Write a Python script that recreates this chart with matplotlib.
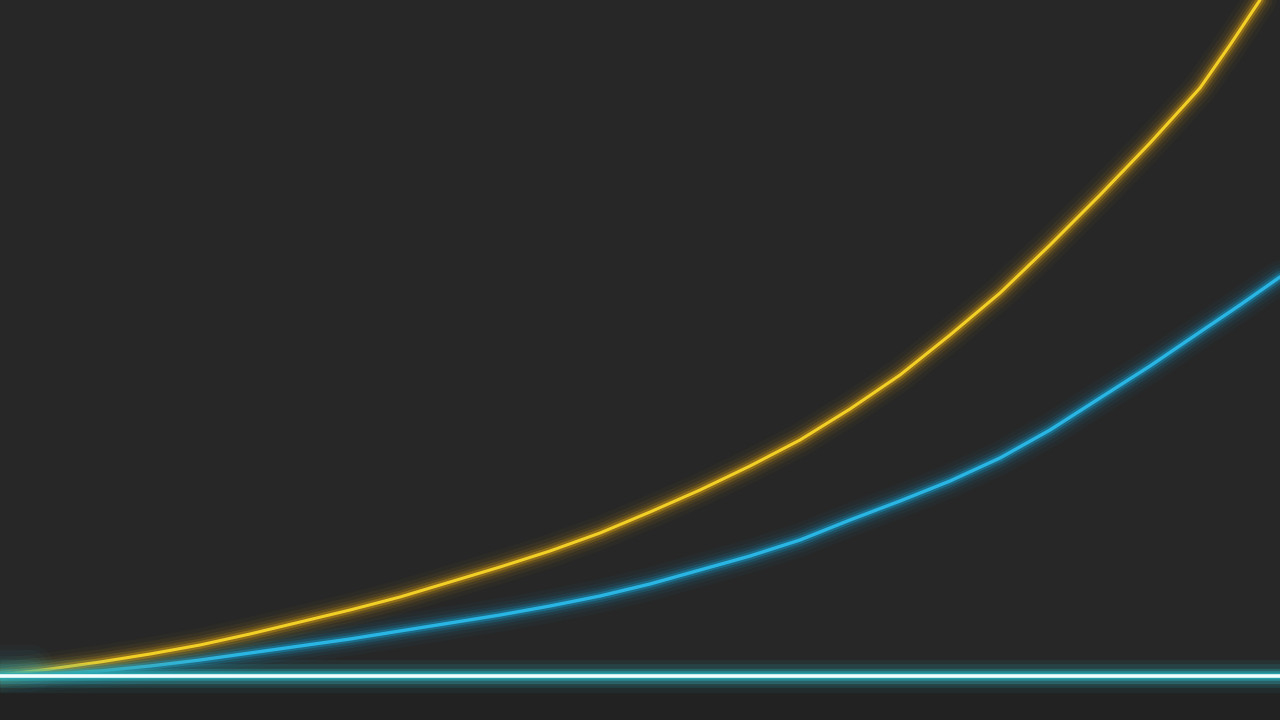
import matplotlib
matplotlib.use('Agg')
import matplotlib.pyplot as plt

# punkty (x, y w pikselach, y liczone od gory)
x_zolta = [0, 50, 100, 150, 200, 250, 300, 350, 400, 450, 500, 550, 600, 650,
           700, 750, 800, 850, 900, 950, 1000, 1050, 1100, 1150, 1200, 1230, 1260]
y_zolta = [675, 669, 662, 654, 645, 634, 622, 610, 597, 582, 567, 551, 533, 512,
           490, 466, 440, 409, 375, 335, 293, 245, 195, 143, 88, 45, 0]

x_niebieska = [0, 50, 100, 150, 200, 250, 300, 350, 400, 450, 500, 550, 600, 650,
               700, 750, 800, 850, 900, 950, 1000, 1050, 1100, 1150, 1200, 1240, 1280]
y_niebieska = [676, 674, 671, 666, 660, 653, 646, 639, 631, 623, 615, 606, 596, 584,
               570, 556, 540, 520, 501, 481, 458, 430, 398, 366, 332, 305, 277]

x_pozioma = [0, 1280]
y_pozioma = [676, 676]


def swiecaca_linia(ax, x, y, kolor_rdzenia, kolor_poswiaty, szer=2.0):
    for lw, a in [(24, 0.04), (18, 0.07), (13, 0.11), (9, 0.2), (5.5, 0.4)]:
        ax.plot(x, y, color=kolor_poswiaty, lw=lw, alpha=a,
                solid_capstyle='round', solid_joinstyle='round')
    ax.plot(x, y, color=kolor_rdzenia, lw=szer,
            solid_capstyle='round', solid_joinstyle='round')


fig = plt.figure(figsize=(12.8, 7.2), dpi=100)
fig.patch.set_facecolor('#272727')
ax = fig.add_axes([0, 0, 1, 1])
ax.set_facecolor('#272727')
ax.set_xlim(0, 1280)
ax.set_ylim(720, 0)
ax.axis('off')

# ciemniejszy pas pod linia pozioma
ax.axhspan(686, 720, color='#222222', lw=0)

swiecaca_linia(ax, x_niebieska, y_niebieska, '#2ab6e4', '#1699c9', szer=2.4)
swiecaca_linia(ax, x_zolta, y_zolta, '#f2d026', '#d29a12', szer=2.2)

# poswiata przy lewym brzegu
for lw, a in [(34, 0.03), (26, 0.04), (18, 0.05), (12, 0.06)]:
    ax.plot([0, 30], [668, 668], color='#3cc4c8', lw=lw, alpha=a,
            solid_capstyle='round')

# linia pozioma - biala z turkusowa poswiata
for lw, a in [(24, 0.08), (17, 0.15), (11, 0.3), (7, 0.5), (4.5, 0.7)]:
    ax.plot(x_pozioma, y_pozioma, color='#2aa9b3', lw=lw, alpha=a,
            solid_capstyle='butt')
ax.plot(x_pozioma, y_pozioma, color='#f2ffff', lw=2.6, solid_capstyle='butt')

plt.savefig('out.png', dpi=100, facecolor=fig.get_facecolor())
plt.close()
